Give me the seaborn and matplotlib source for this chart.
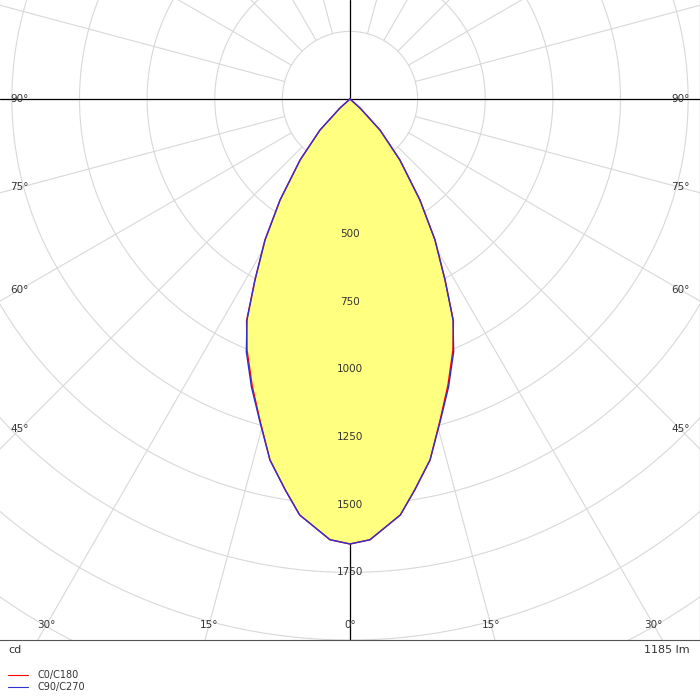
import numpy as np
import matplotlib
matplotlib.use("Agg")
import matplotlib.pyplot as plt
import seaborn as sns

angles = [0, 2.6, 6.9, 9.4, 12.5, 15.7, 18.9, 22.3, 25, 27.7, 31.1, 34.7, 39.3, 44, 48, 55, 90]
c0_cd = [1645, 1631, 1549, 1465, 1367, 1232, 1118, 1003, 905, 756, 608, 454, 291, 160, 50, 0, 0]
c90_cd = [1645, 1631, 1549, 1465, 1367, 1235, 1125, 1010, 901, 756, 608, 454, 291, 160, 50, 0, 0]
radial_ticks = [500, 750, 1000, 1250, 1500, 1750]
lumens = "1185 lm"

sns.set_style("white")
plt.rcParams['font.family'] = ['DejaVu Sans']
fig = plt.figure(figsize=(7, 7), dpi=100)
ax = fig.add_axes([0, 60/700, 1, 640/700])
S = 0.2705
ax.set_xlim(-350/S, 350/S)
ax.set_ylim(-541/S, 99/S)
ax.set_xticks([]); ax.set_yticks([])
for s in ax.spines.values():
    s.set_color('#555555'); s.set_linewidth(0.8)
ax.spines['top'].set_visible(False); ax.spines['left'].set_visible(False)

t = np.linspace(0, 2*np.pi, 400)
for r in range(250, 3001, 250):
    ax.plot(r*np.sin(t), r*np.cos(t), color='#d8d8d8', lw=0.8, zorder=1)
for a in range(0, 360, 15):
    ar = np.radians(a)
    ax.plot([250*np.sin(ar), 4000*np.sin(ar)], [250*np.cos(ar), 4000*np.cos(ar)], color='#d8d8d8', lw=0.8, zorder=1)
ax.axhline(0, color='black', lw=0.9, zorder=2)
ax.axvline(0, color='black', lw=0.9, zorder=2)

def curve(vals):
    a = np.radians(np.array([-x for x in angles[::-1]] + angles[1:]))
    v = np.array(vals[::-1] + vals[1:])
    return v*np.sin(a), -v*np.cos(a)

x0, y0 = curve(c0_cd)
x9, y9 = curve(c90_cd)
ax.fill(x0, y0, color='#ffff80', zorder=3, lw=0)
sns.lineplot(x=x0, y=y0, sort=False, color='red', lw=1, ax=ax, zorder=4, estimator=None)
sns.lineplot(x=x9, y=y9, sort=False, color='#3030d0', lw=1, ax=ax, zorder=5, estimator=None)

for r in radial_ticks:
    ax.text(0, -r, str(r), ha='center', va='center', fontsize=7.5, color='#333333', zorder=6)

W = 350/S; B = 541/S
for a in [45, 60, 75, 90]:
    yy = -(W-20/S)/np.tan(np.radians(a)) if a != 90 else 0
    ax.text(-W+10/S, yy, f"{a}°", ha='left', va='center', fontsize=7.5, color='#333333', zorder=6)
    ax.text(W-10/S, yy, f"{a}°", ha='right', va='center', fontsize=7.5, color='#333333', zorder=6)
for a in [0, 15, 30]:
    yl = B-15/S
    xx = yl*np.tan(np.radians(a))
    for sgn in ([1] if a == 0 else [-1, 1]):
        ax.text(sgn*xx, -yl, f"{a}°", ha='center', va='center', fontsize=7.5, color='#333333', zorder=6)

fig.text(8/700, 1-650/700, "cd", fontsize=8, va='center', color='#333333')
fig.text(690/700, 1-650/700, lumens, fontsize=8, va='center', ha='right', color='#333333')
for i, (lab, col) in enumerate([("C0/C180", 'red'), ("C90/C270", '#3030d0')]):
    yy = 1-(675+12*i)/700
    fig.add_artist(plt.Line2D([8/700, 28/700], [yy, yy], color=col, lw=0.8))
    fig.text(38/700, yy, lab, fontsize=7, va='center', color='#333333')

fig.savefig("out.png", dpi=100)
